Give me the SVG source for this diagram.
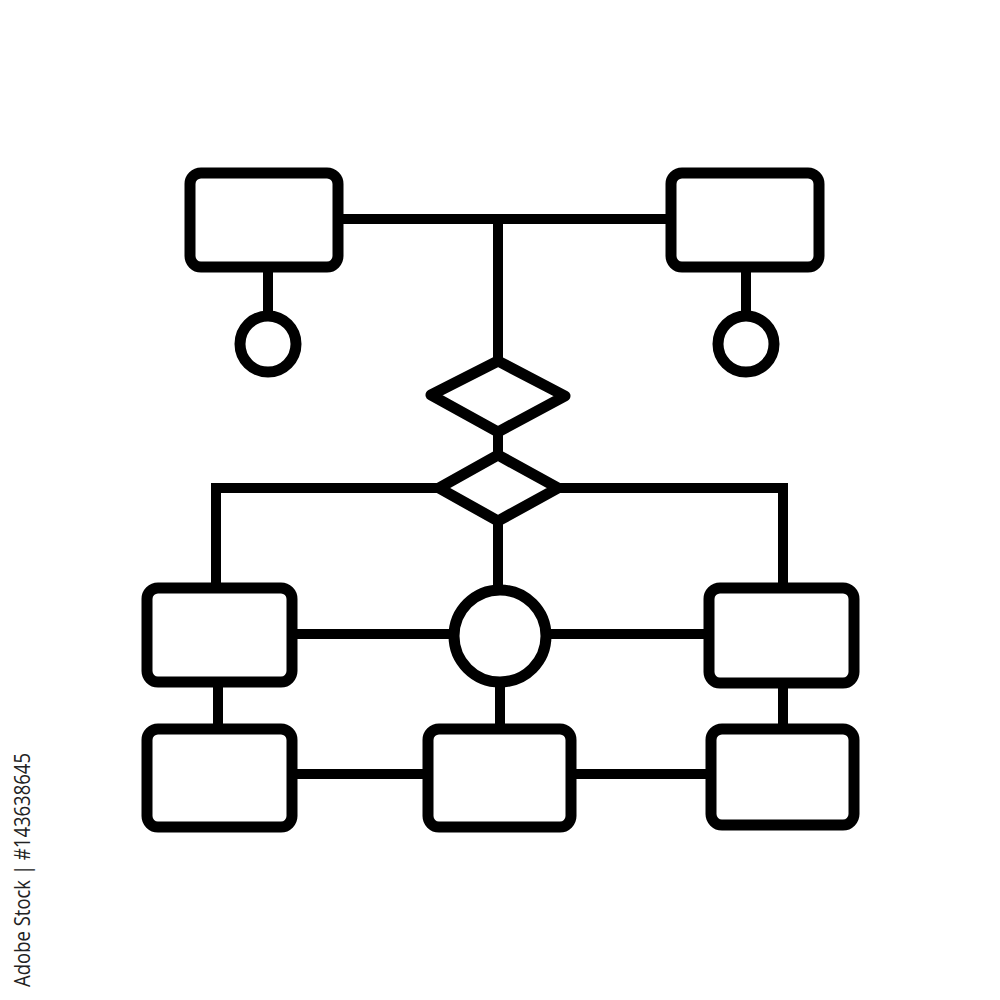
<svg xmlns="http://www.w3.org/2000/svg" width="1000" height="1000" viewBox="0 0 1000 1000">
<style>
.n{fill:#fff;stroke:#000;stroke-width:11;stroke-linejoin:round}
.c{fill:none;stroke:#000;stroke-width:10;stroke-linecap:butt;stroke-linejoin:miter}
.w{font-family:"Open Sans","Liberation Sans",sans-serif;font-size:21px;font-weight:500;fill:#222}
</style>
<rect width="1000" height="1000" fill="#fff"/>
<g id="connectors">
<path class="c" d="M338 219H671"/>
<path class="c" d="M498 219V362"/>
<path class="c" d="M268 267V313"/>
<path class="c" d="M746 267V313"/>
<path class="c" d="M498 432V455"/>
<path class="c" d="M216 588V488H440M557 488H783V588"/>
<path class="c" d="M498 520V590"/>
<path class="c" d="M292 634H454M546 634H709"/>
<path class="c" d="M218 682V729"/>
<path class="c" d="M783 682V729"/>
<path class="c" d="M500 682V729"/>
<path class="c" d="M292 774H428M571 774H711"/>
</g>
<g id="box-top-left"><rect class="n" x="190" y="173" width="148" height="94" rx="11"/></g>
<g id="box-top-right"><rect class="n" x="671" y="173" width="148" height="94" rx="11"/></g>
<g id="circle-top-left"><circle class="n" cx="268" cy="344" r="28"/></g>
<g id="circle-top-right"><circle class="n" cx="746" cy="344" r="28"/></g>
<g id="diamond-1"><path class="n" d="M498 361L565 396L498 432L431 395Z"/></g>
<g id="diamond-2"><path class="n" d="M498 455L558 488L498 521L439 488Z"/></g>
<g id="circle-middle"><circle class="n" cx="500" cy="636" r="46"/></g>
<g id="box-mid-left"><rect class="n" x="147" y="588" width="145" height="94" rx="11"/></g>
<g id="box-mid-right"><rect class="n" x="709" y="588" width="145" height="95" rx="11"/></g>
<g id="box-bot-left"><rect class="n" x="147" y="729" width="145" height="98" rx="11"/></g>
<g id="box-bot-middle"><rect class="n" x="428" y="729" width="143" height="98" rx="11"/></g>
<g id="box-bot-right"><rect class="n" x="711" y="729" width="143" height="96" rx="11"/></g>
<text class="w" transform="translate(30 987) rotate(-90)" textLength="234" lengthAdjust="spacingAndGlyphs">Adobe Stock | #143638645</text>
</svg>
